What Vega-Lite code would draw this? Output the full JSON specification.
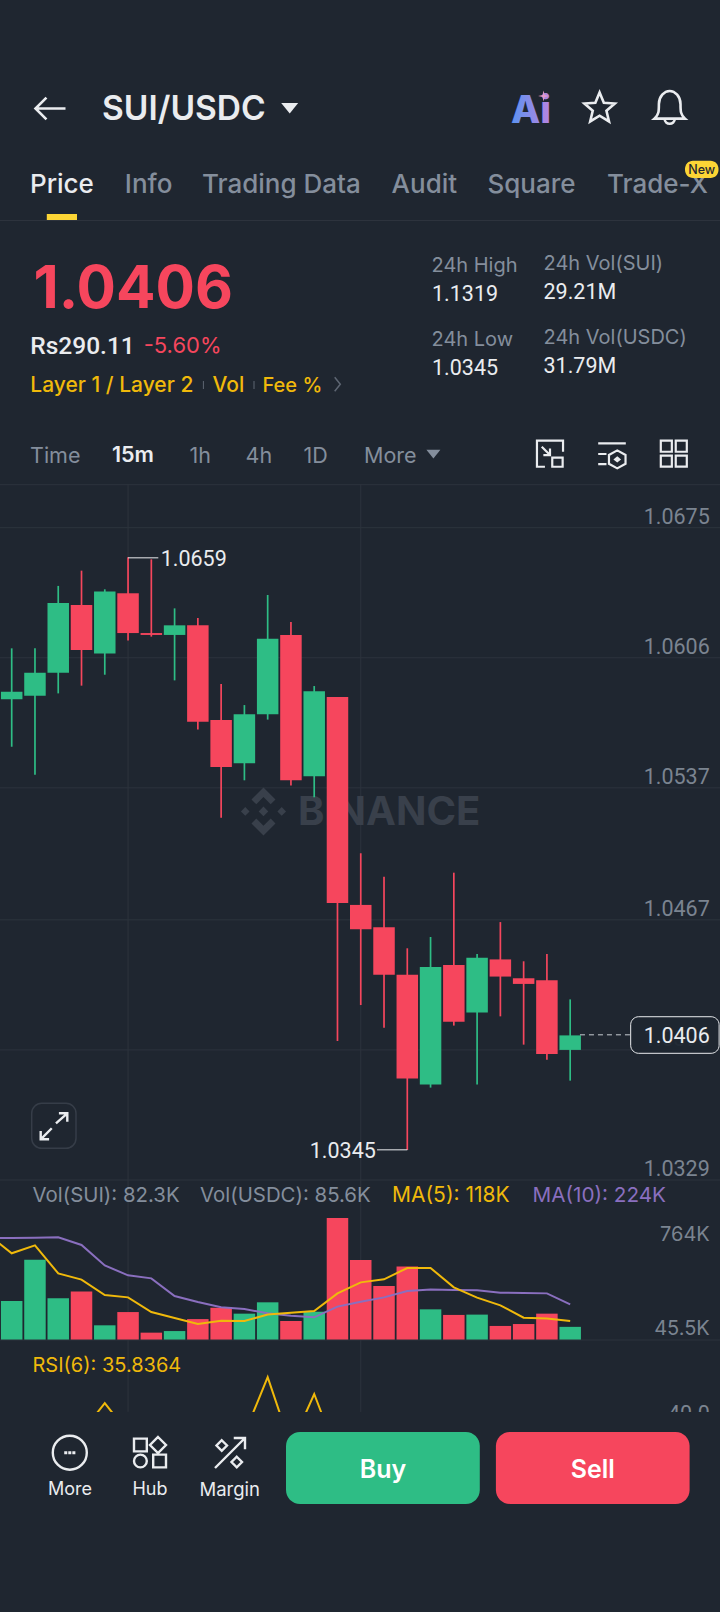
{
  "$schema": "https://vega.github.io/schema/vega-lite/v6.json",
  "width": 720,
  "height": 1612,
  "padding": 0,
  "autosize": {"type": "none"},
  "background": "#1F2630",
  "config": {"view": {"stroke": null}, "axis": {"disable": true}, "text": {"font": "Inter"}, "scale": {"continuousPadding": 0}},
  "datasets": {
    "candles": [
      {"i":0,"open":1.05840,"high":1.06110,"low":1.05588,"close":1.05880,"vol":244},
      {"i":1,"open":1.05859,"high":1.06110,"low":1.05440,"close":1.05981,"vol":503},
      {"i":2,"open":1.05981,"high":1.06441,"low":1.05871,"close":1.06350,"vol":261},
      {"i":3,"open":1.06340,"high":1.06522,"low":1.05912,"close":1.06101,"vol":303},
      {"i":4,"open":1.06082,"high":1.06423,"low":1.05970,"close":1.06412,"vol":92},
      {"i":5,"open":1.06402,"high":1.06593,"low":1.06151,"close":1.06191,"vol":175},
      {"i":6,"open":1.06191,"high":1.06582,"low":1.06172,"close":1.06181,"vol":46},
      {"i":7,"open":1.06181,"high":1.06322,"low":1.05940,"close":1.06232,"vol":56},
      {"i":8,"open":1.06232,"high":1.06271,"low":1.05680,"close":1.05721,"vol":131},
      {"i":9,"open":1.05730,"high":1.05921,"low":1.05212,"close":1.05481,"vol":202},
      {"i":10,"open":1.05500,"high":1.05809,"low":1.05410,"close":1.05760,"vol":165},
      {"i":11,"open":1.05760,"high":1.06393,"low":1.05732,"close":1.06161,"vol":236},
      {"i":12,"open":1.06181,"high":1.06250,"low":1.05382,"close":1.05410,"vol":119},
      {"i":13,"open":1.05431,"high":1.05910,"low":1.05320,"close":1.05882,"vol":177},
      {"i":14,"open":1.05852,"high":1.05852,"low":1.04027,"close":1.04759,"vol":764},
      {"i":15,"open":1.04749,"high":1.05023,"low":1.04218,"close":1.04620,"vol":501},
      {"i":16,"open":1.04630,"high":1.04899,"low":1.04098,"close":1.04379,"vol":338},
      {"i":17,"open":1.04379,"high":1.04519,"low":1.03449,"close":1.03829,"vol":461},
      {"i":18,"open":1.03797,"high":1.04579,"low":1.03780,"close":1.04420,"vol":192},
      {"i":19,"open":1.04430,"high":1.04920,"low":1.04109,"close":1.04130,"vol":157},
      {"i":20,"open":1.04179,"high":1.04489,"low":1.03797,"close":1.04469,"vol":159},
      {"i":21,"open":1.04460,"high":1.04658,"low":1.04158,"close":1.04369,"vol":88},
      {"i":22,"open":1.04360,"high":1.04450,"low":1.04008,"close":1.04330,"vol":100},
      {"i":23,"open":1.04349,"high":1.04489,"low":1.03928,"close":1.03958,"vol":165},
      {"i":24,"open":1.03980,"high":1.04248,"low":1.03817,"close":1.04057,"vol":82.3}
    ],
    "ma": [
      {"i":-1,"ma5":659,"ma10":639},{"i":0,"ma5":543,"ma10":639},{"i":1,"ma5":593,"ma10":641},
      {"i":2,"ma5":417,"ma10":643},{"i":3,"ma5":378,"ma10":595},{"i":4,"ma5":282,"ma10":467},
      {"i":5,"ma5":267,"ma10":405},{"i":6,"ma5":175,"ma10":386},{"i":7,"ma5":138,"ma10":275},
      {"i":8,"ma5":100,"ma10":238},{"i":9,"ma5":121,"ma10":205},{"i":10,"ma5":119,"ma10":194},
      {"i":11,"ma5":159,"ma10":167},{"i":12,"ma5":171,"ma10":152},{"i":13,"ma5":182,"ma10":142},
      {"i":14,"ma5":292,"ma10":209},{"i":15,"ma5":361,"ma10":240},{"i":16,"ma5":380,"ma10":267},
      {"i":17,"ma5":451,"ma10":307},{"i":18,"ma5":451,"ma10":317},{"i":19,"ma5":330,"ma10":313},
      {"i":20,"ma5":265,"ma10":311},{"i":21,"ma5":217,"ma10":296},{"i":22,"ma5":140,"ma10":294},
      {"i":23,"ma5":134,"ma10":292},{"i":24,"ma5":119,"ma10":223}
    ],
    "rsi": [
      {"i":3,"rsi":35.7},{"i":4,"rsi":50.4},{"i":5,"rsi":35.7},{"i":6,"rsi":null},
      {"i":10,"rsi":35},{"i":11,"rsi":63.4},{"i":12,"rsi":29},{"i":13,"rsi":55},{"i":14,"rsi":24.7}
    ],
    "ticks": [{"price":1.0675},{"price":1.0606},{"price":1.0537},{"price":1.0467},{"price":1.0398},{"price":1.0329}]
  },
  "resolve": {"scale": {"x": "independent", "y": "independent"}},
  "layer": [
    {
      "layer": [
        {"data":{"name":"ticks"},"mark":{"type":"rule","color":"#2D333D","strokeWidth":1},
         "encoding":{"y":{"field":"price","type":"quantitative","scale":{"domain":[1.0206,1.0698],"range":[1411.9,484.3],"nice":false,"zero":false}}}},
        {"data":{"values":[{"i":5},{"i":15}]},"mark":{"type":"rule","color":"#2D333D","strokeWidth":1},
         "encoding":{"x":{"field":"i","type":"quantitative","scale":{"domain":[-1,31],"range":[-11.57,733.07],"nice":false,"zero":false}},
           "y":{"datum":1.0698},"y2":{"datum":1.0206}}},
        {"data":{"values":[{"item":"logo"}]},"mark":{"type":"point","filled":true,"opacity":1,"color":"#39404B","size":2304,
           "shape":"M0,-1L.5,-.5L.3,-.3L0,-.6L-.3,-.3L-.5,-.5ZM0,1L.5,.5L.3,.3L0,.6L-.3,.3L-.5,.5ZM0,-.2L.2,0L0,.2L-.2,0ZM-.76,-.18L-.58,0L-.76,.18L-.94,0ZM.76,-.18L.94,0L.76,.18L.58,0Z"},
         "encoding":{"x":{"datum":10.82},"y":{"datum":1.05245}}},
        {"data":{"values":[{"label":"BINANCE"}]},"mark":{"type":"text","align":"left","baseline":"middle","dy":2,"fontSize":40,"fontWeight":700,"color":"#39404B"},
         "encoding":{"x":{"datum":12.3},"y":{"datum":1.05245},"text":{"field":"label"}}},
        {"data":{"name":"ticks"},"mark":{"type":"text","align":"right","baseline":"middle","dy":-10,"font":"Roboto","fontSize":21.5,"color":"#7B8490"},
         "encoding":{"x":{"datum":30},"y":{"field":"price","type":"quantitative"},"text":{"field":"price","format":".4f"}}},
        {"data":{"name":"candles"},"mark":{"type":"rule","strokeWidth":1.7},
         "encoding":{"x":{"field":"i","type":"quantitative"},"y":{"field":"low","type":"quantitative"},"y2":{"field":"high"},
           "color":{"condition":{"test":"datum.close >= datum.open","value":"#2EBD85"},"value":"#F6465D"}}},
        {"data":{"name":"candles"},"mark":{"type":"bar","size":21.5,"orient":"vertical"},
         "encoding":{"x":{"field":"i","type":"quantitative"},"y":{"field":"open","type":"quantitative"},"y2":{"field":"close"},
           "color":{"condition":{"test":"datum.close >= datum.open","value":"#2EBD85"},"value":"#F6465D"}}},
        {"data":{"values":[{"price":1.0659,"from":5,"to":6.3}]},"mark":{"type":"rule","color":"#EAECEF","strokeWidth":1},
         "encoding":{"x":{"field":"from","type":"quantitative"},"x2":{"field":"to"},"y":{"field":"price","type":"quantitative"}}},
        {"data":{"values":[{"price":1.0659}]},"mark":{"type":"text","align":"left","baseline":"middle","dy":2,"font":"Roboto","fontSize":21.5,"color":"#EAECEF"},
         "encoding":{"x":{"datum":6.4},"y":{"field":"price","type":"quantitative"},"text":{"field":"price","format":".4f"}}},
        {"data":{"values":[{"price":1.0345,"from":15.7,"to":17}]},"mark":{"type":"rule","color":"#EAECEF","strokeWidth":1},
         "encoding":{"x":{"field":"from","type":"quantitative"},"x2":{"field":"to"},"y":{"field":"price","type":"quantitative"}}},
        {"data":{"values":[{"price":1.0345}]},"mark":{"type":"text","align":"right","baseline":"middle","dy":2,"font":"Roboto","fontSize":21.5,"color":"#EAECEF"},
         "encoding":{"x":{"datum":15.65},"y":{"field":"price","type":"quantitative"},"text":{"field":"price","format":".4f"}}},
        {"data":{"values":[{"price":1.0406,"from":24.42,"to":26.6}]},"mark":{"type":"rule","color":"#C8CCD2","strokeWidth":1,"strokeDash":[5,4]},
         "encoding":{"x":{"field":"from","type":"quantitative"},"x2":{"field":"to"},"y":{"field":"price","type":"quantitative"}}},
        {"data":{"values":[{"item":"last price box"}]},"mark":{"type":"rect","fill":"#1F2630","fillOpacity":0.95,"stroke":"#EAECEF","strokeWidth":1,"cornerRadius":8},
         "encoding":{"x":{"datum":26.6},"x2":{"datum":30.4},"y":{"datum":1.04156},"y2":{"datum":1.03962}}},
        {"data":{"values":[{"price":1.0406}]},"mark":{"type":"text","align":"right","baseline":"middle","dy":2,"font":"Roboto","fontSize":21.5,"color":"#EAECEF"},
         "encoding":{"x":{"datum":30},"y":{"field":"price","type":"quantitative"},"text":{"field":"price","format":".4f"}}}
      ]
    },
    {
      "layer": [
        {"data":{"name":"candles"},"mark":{"type":"bar","size":21.5,"orient":"vertical"},
         "encoding":{"x":{"field":"i","type":"quantitative","scale":{"domain":[-1,31],"range":[-11.57,733.07],"nice":false,"zero":false}},
           "y":{"field":"vol","type":"quantitative","scale":{"domain":[0,764],"range":[1340,1218],"nice":false}},
           "color":{"condition":{"test":"datum.close >= datum.open","value":"#2EBD85"},"value":"#F6465D"}}},
        {"data":{"values":[{"vol":0}]},"mark":{"type":"rule","color":"#2D333D","strokeWidth":1},
         "encoding":{"y":{"field":"vol","type":"quantitative"}}},
        {"data":{"name":"ma"},"mark":{"type":"line","color":"#8A6FBF","strokeWidth":2,"clip":true},
         "encoding":{"x":{"field":"i","type":"quantitative"},"y":{"field":"ma10","type":"quantitative"}}},
        {"data":{"name":"ma"},"mark":{"type":"line","color":"#F0B90B","strokeWidth":2,"clip":true},
         "encoding":{"x":{"field":"i","type":"quantitative"},"y":{"field":"ma5","type":"quantitative"}}},
        {"data":{"values":[{"vol":764,"label":"764K"}]},"mark":{"type":"text","align":"right","baseline":"middle","dy":16.7,"fontSize":20,"color":"#7B8490"},
         "encoding":{"x":{"datum":30},"y":{"field":"vol","type":"quantitative"},"text":{"field":"label"}}},
        {"data":{"values":[{"vol":45.5,"label":"45.5K"}]},"mark":{"type":"text","align":"right","baseline":"middle","dy":-4,"fontSize":20,"color":"#7B8490"},
         "encoding":{"x":{"datum":30},"y":{"field":"vol","type":"quantitative"},"text":{"field":"label"}}}
      ]
    },
    {
      "layer": [
        {"data":{"name":"rsi"},"mark":{"type":"line","color":"#F0B90B","strokeWidth":2},
         "encoding":{"x":{"field":"i","type":"quantitative","scale":{"domain":[-1,31],"range":[-11.57,733.07],"nice":false,"zero":false}},
           "y":{"field":"rsi","type":"quantitative","scale":{"domain":[0,100],"range":[1504,1304],"nice":false}}}},
        {"data":{"values":[{"rsi":40}]},"mark":{"type":"text","align":"right","baseline":"middle","dy":-9,"font":"Roboto","fontSize":21.5,"color":"#7B8490"},
         "encoding":{"x":{"datum":30},"y":{"field":"rsi","type":"quantitative"},"text":{"field":"rsi","format":".1f"}}}
      ]
    },
    {
      "layer": [
        {"data":{"values":[{"item":"footer"}]},"mark":{"type":"rect","fill":"#1F2630"},
         "encoding":{"x":{"datum":0,"scale":{"domain":[0,720],"nice":false}},"x2":{"datum":720},"y":{"datum":1412,"scale":{"domain":[0,1612],"reverse":true,"nice":false}},"y2":{"datum":1612}}},
        {"data":{"values":[{"item":"tab divider"}]},"mark":{"type":"rule","color":"#2D333D","strokeWidth":1},"encoding":{"y":{"datum":220.5}}},
        {"data":{"values":[{"item":"chart top"}]},"mark":{"type":"rule","color":"#2D333D","strokeWidth":1},"encoding":{"y":{"datum":484.7}}},
        {"data":{"values":[{"item":"back"}]},"mark":{"type":"point","filled":false,"opacity":1,"color":"#EAECEF","strokeWidth":2.6,"size":900,"shape":"M1,0L-1,0M-.27,-.73L-1,0L-.27,.73"},"encoding":{"x":{"datum":50.5},"y":{"datum":108.5}}},
        {"data":{"values":[{"label":"SUI/USDC"}]},"mark":{"type":"text","align":"left","baseline":"middle","fontSize":33.5,"fontWeight":600,"color":"#EAECEF"},"encoding":{"x":{"datum":102},"y":{"datum":110},"text":{"field":"label"}}},
        {"data":{"values":[{"item":"pair menu"}]},"mark":{"type":"point","filled":true,"opacity":1,"color":"#EAECEF","size":289,"shape":"M-1,-.6L1,-.6L0,.65Z"},"encoding":{"x":{"datum":289.7},"y":{"datum":108}}},
        {"data":{"values":[{"label":"Ai"}]},"mark":{"type":"text","align":"left","baseline":"middle","fontSize":38,"fontWeight":800,"fill":{"gradient":"linear","x1":0,"y1":0,"x2":1,"y2":0,"stops":[{"offset":0,"color":"#5B93F0"},{"offset":1,"color":"#B884E0"}]}},"encoding":{"x":{"datum":511},"y":{"datum":112},"text":{"field":"label"}}},
        {"data":{"values":[{"item":"sparkle"}]},"mark":{"type":"point","filled":true,"opacity":1,"color":"#E59AC8","size":121,"shape":"M0,-1L.2,-.2L1,0L.2,.2L0,1L-.2,.2L-1,0L-.2,-.2Z"},"encoding":{"x":{"datum":543.6},"y":{"datum":96}}},
        {"data":{"values":[{"item":"star"}]},"mark":{"type":"point","filled":false,"opacity":1,"color":"#EAECEF","strokeWidth":2.6,"size":1024,"shape":"M0,-1L.265,-.364L.951,-.309L.428,.139L.588,.809L0,.45L-.588,.809L-.428,.139L-.951,-.309L-.265,-.364Z"},"encoding":{"x":{"datum":599.6},"y":{"datum":108.5}}},
        {"data":{"values":[{"item":"bell"}]},"mark":{"type":"point","filled":false,"opacity":1,"color":"#EAECEF","strokeWidth":2.6,"size":1296,"shape":"M-.85,.62C-.6,.4 -.6,.2 -.6,-.2C-.6,-.6 -.3,-.92 0,-.92C.3,-.92 .6,-.6 .6,-.2C.6,.2 .6,.4 .85,.62ZM-.28,.62C-.28,1 .28,1 .28,.62"},"encoding":{"x":{"datum":669.7},"y":{"datum":107.5}}},
        {"data":{"values":[{"label":"Price"}]},"mark":{"type":"text","align":"left","baseline":"middle","fontSize":26,"fontWeight":500,"color":"#EAECEF"},"encoding":{"x":{"datum":30},"y":{"datum":185},"text":{"field":"label"}}},
        {"data":{"values":[{"label":"Info"}]},"mark":{"type":"text","align":"left","baseline":"middle","fontSize":26,"fontWeight":500,"color":"#848E9C"},"encoding":{"x":{"datum":124.8},"y":{"datum":185},"text":{"field":"label"}}},
        {"data":{"values":[{"label":"Trading Data"}]},"mark":{"type":"text","align":"left","baseline":"middle","fontSize":26,"fontWeight":500,"color":"#848E9C"},"encoding":{"x":{"datum":202},"y":{"datum":185},"text":{"field":"label"}}},
        {"data":{"values":[{"label":"Audit"}]},"mark":{"type":"text","align":"left","baseline":"middle","fontSize":26,"fontWeight":500,"color":"#848E9C"},"encoding":{"x":{"datum":391.6},"y":{"datum":185},"text":{"field":"label"}}},
        {"data":{"values":[{"label":"Square"}]},"mark":{"type":"text","align":"left","baseline":"middle","fontSize":26,"fontWeight":500,"color":"#848E9C"},"encoding":{"x":{"datum":487.5},"y":{"datum":185},"text":{"field":"label"}}},
        {"data":{"values":[{"label":"Trade-X"}]},"mark":{"type":"text","align":"left","baseline":"middle","fontSize":26,"fontWeight":500,"color":"#848E9C"},"encoding":{"x":{"datum":607},"y":{"datum":185},"text":{"field":"label"}}},
        {"data":{"values":[{"item":"new badge"}]},"mark":{"type":"rect","fill":"#FCD535","cornerRadius":8},"encoding":{"x":{"datum":685},"x2":{"datum":718.5},"y":{"datum":160.7},"y2":{"datum":178}}},
        {"data":{"values":[{"label":"New"}]},"mark":{"type":"text","align":"center","baseline":"middle","fontSize":12.5,"fontWeight":500,"color":"#1F2630"},"encoding":{"x":{"datum":701.7},"y":{"datum":170},"text":{"field":"label"}}},
        {"data":{"values":[{"item":"tab indicator"}]},"mark":{"type":"rect","fill":"#FCD535"},"encoding":{"x":{"datum":46.8},"x2":{"datum":77},"y":{"datum":214},"y2":{"datum":220}}},
        {"data":{"values":[{"label":"1.0406"}]},"mark":{"type":"text","align":"left","baseline":"middle","fontSize":58.5,"fontWeight":700,"color":"#F6465D"},"encoding":{"x":{"datum":33.5},"y":{"datum":290},"text":{"field":"label"}}},
        {"data":{"values":[{"label":"Rs290.11"}]},"mark":{"type":"text","align":"left","baseline":"middle","font":"Roboto","fontSize":24.5,"fontWeight":500,"color":"#EAECEF"},"encoding":{"x":{"datum":30.3},"y":{"datum":347},"text":{"field":"label"}}},
        {"data":{"values":[{"label":"-5.60%"}]},"mark":{"type":"text","align":"left","baseline":"middle","fontSize":22,"color":"#F6465D"},"encoding":{"x":{"datum":143.7},"y":{"datum":346},"text":{"field":"label"}}},
        {"data":{"values":[{"label":"Layer 1 / Layer 2"}]},"mark":{"type":"text","align":"left","baseline":"middle","fontSize":21,"fontWeight":500,"color":"#F0B90B"},"encoding":{"x":{"datum":30.3},"y":{"datum":386},"text":{"field":"label"}}},
        {"data":{"values":[{"label":"Vol"}]},"mark":{"type":"text","align":"left","baseline":"middle","fontSize":21,"fontWeight":500,"color":"#F0B90B"},"encoding":{"x":{"datum":212.5},"y":{"datum":386},"text":{"field":"label"}}},
        {"data":{"values":[{"label":"Fee %"}]},"mark":{"type":"text","align":"left","baseline":"middle","fontSize":20,"fontWeight":500,"color":"#F0B90B"},"encoding":{"x":{"datum":262.5},"y":{"datum":386},"text":{"field":"label"}}},
        {"data":{"values":[{"item":"sep"}]},"mark":{"type":"rule","color":"#5E6673","strokeWidth":1},"encoding":{"x":{"datum":203.4},"y":{"datum":381},"y2":{"datum":389}}},
        {"data":{"values":[{"item":"sep"}]},"mark":{"type":"rule","color":"#5E6673","strokeWidth":1},"encoding":{"x":{"datum":254},"y":{"datum":381},"y2":{"datum":389}}},
        {"data":{"values":[{"item":"chevron"}]},"mark":{"type":"point","filled":false,"opacity":1,"color":"#5E6673","strokeWidth":1.5,"size":196,"shape":"M-.4,-1L.4,0L-.4,1"},"encoding":{"x":{"datum":337.5},"y":{"datum":384.3}}},
        {"data":{"values":[{"label":"24h High"}]},"mark":{"type":"text","align":"left","baseline":"middle","fontSize":20,"color":"#848E9C"},"encoding":{"x":{"datum":431.5},"y":{"datum":266},"text":{"field":"label"}}},
        {"data":{"values":[{"label":"1.1319"}]},"mark":{"type":"text","align":"left","baseline":"middle","font":"Roboto","fontSize":21.5,"color":"#EAECEF"},"encoding":{"x":{"datum":432},"y":{"datum":294.7},"text":{"field":"label"}}},
        {"data":{"values":[{"label":"24h Low"}]},"mark":{"type":"text","align":"left","baseline":"middle","fontSize":20,"color":"#848E9C"},"encoding":{"x":{"datum":431.5},"y":{"datum":340.3},"text":{"field":"label"}}},
        {"data":{"values":[{"label":"1.0345"}]},"mark":{"type":"text","align":"left","baseline":"middle","font":"Roboto","fontSize":21.5,"color":"#EAECEF"},"encoding":{"x":{"datum":432},"y":{"datum":368.7},"text":{"field":"label"}}},
        {"data":{"values":[{"label":"24h Vol(SUI)"}]},"mark":{"type":"text","align":"left","baseline":"middle","fontSize":20,"color":"#848E9C"},"encoding":{"x":{"datum":543.5},"y":{"datum":264.3},"text":{"field":"label"}}},
        {"data":{"values":[{"label":"29.21M"}]},"mark":{"type":"text","align":"left","baseline":"middle","font":"Roboto","fontSize":21.5,"color":"#EAECEF"},"encoding":{"x":{"datum":543.5},"y":{"datum":293},"text":{"field":"label"}}},
        {"data":{"values":[{"label":"24h Vol(USDC)"}]},"mark":{"type":"text","align":"left","baseline":"middle","fontSize":20,"color":"#848E9C"},"encoding":{"x":{"datum":543.5},"y":{"datum":338},"text":{"field":"label"}}},
        {"data":{"values":[{"label":"31.79M"}]},"mark":{"type":"text","align":"left","baseline":"middle","font":"Roboto","fontSize":21.5,"color":"#EAECEF"},"encoding":{"x":{"datum":543.5},"y":{"datum":367},"text":{"field":"label"}}},
        {"data":{"values":[{"label":"Time"}]},"mark":{"type":"text","align":"left","baseline":"middle","fontSize":21.5,"color":"#848E9C"},"encoding":{"x":{"datum":30},"y":{"datum":457},"text":{"field":"label"}}},
        {"data":{"values":[{"label":"15m"}]},"mark":{"type":"text","align":"left","baseline":"middle","fontSize":21.5,"fontWeight":600,"color":"#EAECEF"},"encoding":{"x":{"datum":112},"y":{"datum":455.5},"text":{"field":"label"}}},
        {"data":{"values":[{"label":"1h"}]},"mark":{"type":"text","align":"left","baseline":"middle","fontSize":21.5,"color":"#848E9C"},"encoding":{"x":{"datum":189.5},"y":{"datum":457},"text":{"field":"label"}}},
        {"data":{"values":[{"label":"4h"}]},"mark":{"type":"text","align":"left","baseline":"middle","fontSize":21.5,"color":"#848E9C"},"encoding":{"x":{"datum":245.6},"y":{"datum":457},"text":{"field":"label"}}},
        {"data":{"values":[{"label":"1D"}]},"mark":{"type":"text","align":"left","baseline":"middle","fontSize":21.5,"color":"#848E9C"},"encoding":{"x":{"datum":303.4},"y":{"datum":457},"text":{"field":"label"}}},
        {"data":{"values":[{"label":"More"}]},"mark":{"type":"text","align":"left","baseline":"middle","fontSize":21.5,"color":"#848E9C"},"encoding":{"x":{"datum":364},"y":{"datum":457},"text":{"field":"label"}}},
        {"data":{"values":[{"item":"more menu"}]},"mark":{"type":"point","filled":true,"opacity":1,"color":"#848E9C","size":196,"shape":"M-1,-.6L1,-.6L0,.65Z"},"encoding":{"x":{"datum":433.4},"y":{"datum":454}}},
        {"data":{"values":[{"item":"fit icon"}]},"mark":{"type":"point","filled":false,"opacity":1,"color":"#EAECEF","strokeWidth":2.2,"size":708,"shape":"M-.38,.98L-.98,.98L-.98,-.98L.98,-.98L.98,-.15M.17,.3H.95V.98H.17ZM-.62,-.52L0,.1M0,-.4L0,.1L-.5,.1"},"encoding":{"x":{"datum":550},"y":{"datum":453.7}}},
        {"data":{"values":[{"item":"indicator icon"}]},"mark":{"type":"point","filled":false,"opacity":1,"color":"#EAECEF","strokeWidth":2.2,"size":762,"shape":"M-1,-.77L1,-.77M-1,0L-.4,0M-1,.74L-.4,.74M.38,-.26L.98,.07L.98,.71L.38,1.04L-.22,.71L-.22,.07ZM.38,.27L.53,.39L.38,.51L.23,.39Z"},"encoding":{"x":{"datum":612},"y":{"datum":454}}},
        {"data":{"values":[{"item":"grid icon"}]},"mark":{"type":"point","filled":false,"opacity":1,"color":"#EAECEF","strokeWidth":2.2,"size":676,"shape":"M-1,-1H-.15V-.15H-1ZM.15,-1H1V-.15H.15ZM-1,.15H-.15V1H-1ZM.15,.15H1V1H.15Z"},"encoding":{"x":{"datum":673.8},"y":{"datum":453.7}}},
        {"data":{"values":[{"item":"expand button"}]},"mark":{"type":"rect","fill":"#1F2630","stroke":"#363D48","strokeWidth":1.5,"cornerRadius":10},"encoding":{"x":{"datum":31.7},"x2":{"datum":76},"y":{"datum":1103.3},"y2":{"datum":1148.3}}},
        {"data":{"values":[{"item":"expand"}]},"mark":{"type":"point","filled":false,"opacity":1,"color":"#EAECEF","strokeWidth":2.4,"size":784,"shape":"M-.95,.93L-.16,.14M-.95,.33L-.95,.93L-.35,.93M.95,-.93L.14,-.21M.35,-.93L.95,-.93L.95,-.33"},"encoding":{"x":{"datum":54},"y":{"datum":1126.3}}},
        {"data":{"values":[{"label":"Vol(SUI): 82.3K"}]},"mark":{"type":"text","align":"left","baseline":"middle","fontSize":20.4,"color":"#848E9C"},"encoding":{"x":{"datum":32.5},"y":{"datum":1195.5},"text":{"field":"label"}}},
        {"data":{"values":[{"label":"Vol(USDC): 85.6K"}]},"mark":{"type":"text","align":"left","baseline":"middle","fontSize":20.4,"color":"#848E9C"},"encoding":{"x":{"datum":200},"y":{"datum":1195.5},"text":{"field":"label"}}},
        {"data":{"values":[{"label":"MA(5): 118K"}]},"mark":{"type":"text","align":"left","baseline":"middle","fontSize":21,"color":"#F0B90B"},"encoding":{"x":{"datum":392},"y":{"datum":1195.5},"text":{"field":"label"}}},
        {"data":{"values":[{"label":"MA(10): 224K"}]},"mark":{"type":"text","align":"left","baseline":"middle","fontSize":20.7,"color":"#8A6FBF"},"encoding":{"x":{"datum":532.5},"y":{"datum":1195.5},"text":{"field":"label"}}},
        {"data":{"values":[{"label":"RSI(6): 35.8364"}]},"mark":{"type":"text","align":"left","baseline":"middle","fontSize":20,"color":"#F0B90B"},"encoding":{"x":{"datum":32.5},"y":{"datum":1366},"text":{"field":"label"}}},
        {"data":{"values":[{"item":"more icon"}]},"mark":{"type":"point","filled":false,"opacity":1,"color":"#EAECEF","strokeWidth":2.4,"size":1156,"shape":"M1,0A1,1 0 1 1 -1,0A1,1 0 1 1 1,0Z"},"encoding":{"x":{"datum":69.8},"y":{"datum":1452.7}}},
        {"data":{"values":[{"item":"more dots"}]},"mark":{"type":"point","filled":true,"opacity":1,"color":"#EAECEF","size":324,"shape":"M-.62,-.17H-.28V.17H-.62ZM-.17,-.17H.17V.17H-.17ZM.28,-.17H.62V.17H.28Z"},"encoding":{"x":{"datum":69.8},"y":{"datum":1452.7}}},
        {"data":{"values":[{"item":"hub icon"}]},"mark":{"type":"point","filled":false,"opacity":1,"color":"#EAECEF","strokeWidth":2.4,"size":1024,"shape":"M-1,-.9H-.2V-.1H-1ZM.5,-1L1,-.5L.5,0L0,-.5ZM-.2,.5A.4,.4 0 1 1 -1,.5A.4,.4 0 1 1 -.2,.5ZM.2,.1H1V.9H.2Z"},"encoding":{"x":{"datum":150},"y":{"datum":1453}}},
        {"data":{"values":[{"item":"margin icon"}]},"mark":{"type":"point","filled":false,"opacity":1,"color":"#EAECEF","strokeWidth":2.4,"size":900,"shape":"M-1,1L1,-1M.25,-1L1,-1L1,-.25M-.55,-.85L-.2,-.5L-.55,-.15L-.9,-.5ZM.45,.25L.8,.6L.45,.95L.1,.6Z"},"encoding":{"x":{"datum":230},"y":{"datum":1453}}},
        {"data":{"values":[{"label":"More"}]},"mark":{"type":"text","align":"center","baseline":"middle","fontSize":18,"color":"#EAECEF"},"encoding":{"x":{"datum":70},"y":{"datum":1490},"text":{"field":"label"}}},
        {"data":{"values":[{"label":"Hub"}]},"mark":{"type":"text","align":"center","baseline":"middle","fontSize":18,"color":"#EAECEF"},"encoding":{"x":{"datum":150},"y":{"datum":1490},"text":{"field":"label"}}},
        {"data":{"values":[{"label":"Margin"}]},"mark":{"type":"text","align":"center","baseline":"middle","fontSize":18.5,"color":"#EAECEF"},"encoding":{"x":{"datum":229.7},"y":{"datum":1490},"text":{"field":"label"}}},
        {"data":{"values":[{"item":"buy"}]},"mark":{"type":"rect","fill":"#2EBD85","cornerRadius":14},"encoding":{"x":{"datum":286},"x2":{"datum":479.8},"y":{"datum":1432},"y2":{"datum":1504}}},
        {"data":{"values":[{"item":"sell"}]},"mark":{"type":"rect","fill":"#F6465D","cornerRadius":14},"encoding":{"x":{"datum":495.9},"x2":{"datum":689.6},"y":{"datum":1432},"y2":{"datum":1504}}},
        {"data":{"values":[{"label":"Buy"}]},"mark":{"type":"text","align":"center","baseline":"middle","fontSize":25,"fontWeight":600,"color":"#FFFFFF"},"encoding":{"x":{"datum":383},"y":{"datum":1470},"text":{"field":"label"}}},
        {"data":{"values":[{"label":"Sell"}]},"mark":{"type":"text","align":"center","baseline":"middle","fontSize":25,"fontWeight":600,"color":"#FFFFFF"},"encoding":{"x":{"datum":592.7},"y":{"datum":1470},"text":{"field":"label"}}}
      ]
    }
  ]
}
